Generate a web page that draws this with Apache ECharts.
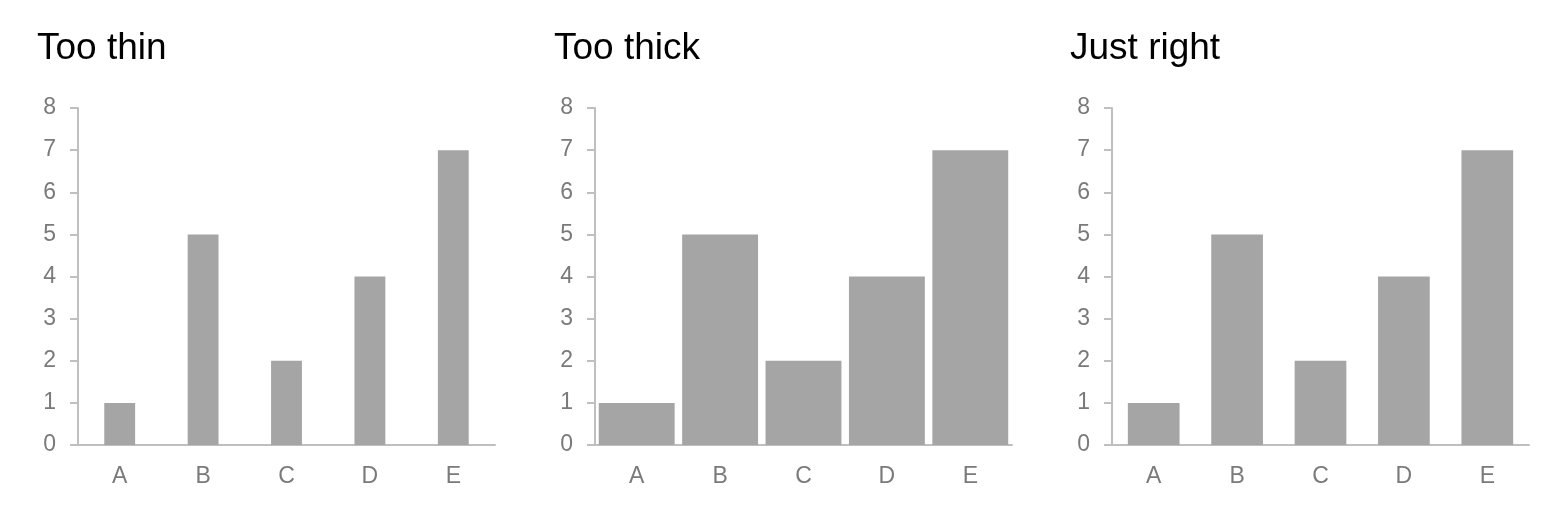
<!DOCTYPE html>
<html>
<head>
<meta charset="utf-8">
<script src="https://cdn.jsdelivr.net/npm/echarts@6/dist/echarts.min.js"></script>
<style>
html,body{margin:0;padding:0;background:#fff;}
#c{width:1568px;height:518px;}
</style>
</head>
<body>
<div id="c"></div>
<script>
var categories = ['A', 'B', 'C', 'D', 'E'];
var values = [1, 5, 2, 4, 7];
var titles = ['Too thin', 'Too thick', 'Just right'];
var yTicks = [0, 1, 2, 3, 4, 5, 6, 7, 8];

var gridLefts = [78, 595, 1112];
var gridWidth = 417;
var gaps = ['63%', '9%', '38%'];
var titleLefts = [37, 554, 1070];

var chart = echarts.init(document.getElementById('c'));
var font = 'Liberation Sans, Arial, Helvetica, sans-serif';
var labelColor = '#7a7a7a';
var axisColor = '#bfbfbf';

var option = {
  animation: false,
  backgroundColor: '#ffffff',
  title: titles.map(function (t, i) {
    return {
      text: t, left: titleLefts[i], top: 30, padding: 0,
      textStyle: { fontFamily: font, fontSize: 37, fontWeight: 'normal', color: '#000000' }
    };
  }),
  grid: gridLefts.map(function (l) {
    return { left: l, width: gridWidth, top: 108, bottom: 73, containLabel: false };
  }),
  xAxis: gridLefts.map(function (l, i) {
    return {
      type: 'category', gridIndex: i, data: categories,
      axisLine: { lineStyle: { color: axisColor, width: 2 } },
      axisTick: { show: false },
      axisLabel: { color: labelColor, fontFamily: font, fontSize: 23, margin: 20 }
    };
  }),
  yAxis: gridLefts.map(function (l, i) {
    return {
      type: 'value', gridIndex: i, min: yTicks[0], max: yTicks[yTicks.length - 1], interval: 1,
      splitLine: { show: false },
      axisLine: { show: true, lineStyle: { color: axisColor, width: 2 } },
      axisTick: { show: true, length: 8, lineStyle: { color: axisColor, width: 2 } },
      axisLabel: { color: labelColor, fontFamily: font, fontSize: 23, margin: 22 }
    };
  }),
  series: gridLefts.map(function (l, i) {
    return {
      type: 'bar', xAxisIndex: i, yAxisIndex: i, data: values,
      barCategoryGap: gaps[i],
      itemStyle: { color: '#a5a5a5' }
    };
  })
};
chart.setOption(option);
</script>
</body>
</html>
